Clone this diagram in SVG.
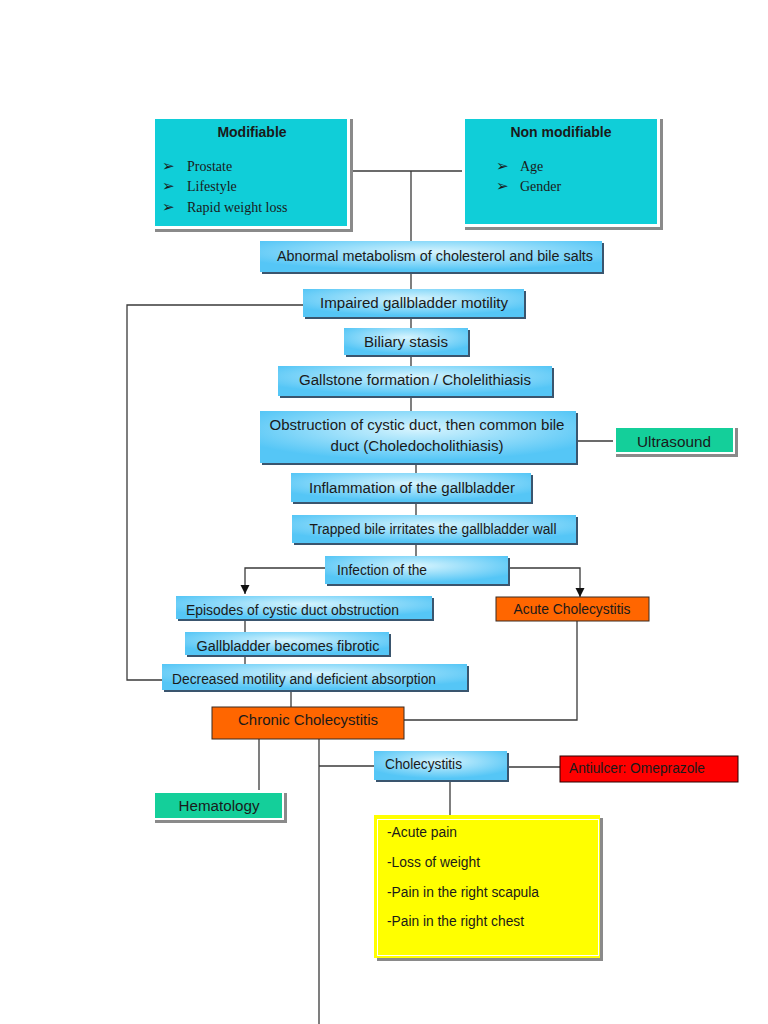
<svg xmlns="http://www.w3.org/2000/svg" width="768" height="1024" viewBox="0 0 768 1024">
<defs>
<radialGradient id="blue" cx="0.5" cy="0.35" r="0.6">
<stop offset="0" stop-color="#D6F4FE"/>
<stop offset="1" stop-color="#55C6F6"/>
</radialGradient>
<marker id="arr" viewBox="0 0 10 10" refX="10" refY="5" markerWidth="7" markerHeight="7" orient="auto">
<path d="M0,0 L10,5 L0,10 z" fill="#111"/>
</marker>
</defs>
<style>
.t{font-family:"Liberation Sans",Arial,sans-serif;font-size:14px;fill:#1a1a1a}
.s{font-family:"Liberation Serif","Times New Roman",serif;font-size:14px;fill:#1a1a1a}
.b{font-weight:bold}
.bl{fill:url(#blue)}
.sh{fill:#3A556E}
.shg{fill:#8a8a8a}
.cy{fill:#10CED8}
.wb{fill:#ffffff}
.gr{fill:#14CF9A}
.or{fill:#FF6600;stroke:#3a2a20;stroke-width:1}
.rd{fill:#FF0000;stroke:#2a0000;stroke-width:1}
.ye{fill:#FFFF00}
.ln{fill:none;stroke:#3a3a3a;stroke-width:1.3}
.m{text-anchor:middle}
.bu{font-family:"DejaVu Sans",sans-serif;font-size:15px;fill:#1a1a1a}
</style>
<rect width="768" height="1024" fill="#ffffff"/>

<g id="connectors">
<path class="ln" d="M351,171 H463"/>
<path class="ln" d="M411,171 V241"/>
<path class="ln" d="M411,273 V289"/>
<path class="ln" d="M411,318 V411"/>
<path class="ln" d="M303,305 H127 V680 H162"/>
<path class="ln" d="M577,441 H614"/>
<path class="ln" d="M416,464 V473"/>
<path class="ln" d="M416,503 V515"/>
<path class="ln" d="M416,544 V556"/>
<path class="ln" d="M325,568 H245 V594" marker-end="url(#arr)"/>
<path class="ln" d="M509,568 H580 V597" marker-end="url(#arr)"/>
<path class="ln" d="M245,620 V632"/>
<path class="ln" d="M245,656 V664"/>
<path class="ln" d="M291,691 V707"/>
<path class="ln" d="M404,720 H577 V621"/>
<path class="ln" d="M259,739 V791"/>
<path class="ln" d="M319,739 V1024"/>
<path class="ln" d="M319,766 H374"/>
<path class="ln" d="M508,767 H560"/>
<path class="ln" d="M450,781 V816"/>
</g>

<g id="modifiable">
<rect class="shg" x="155" y="119" width="198" height="113"/>
<rect class="wb" x="152" y="116" width="198" height="113"/>
<rect class="cy" x="155" y="119" width="192" height="107"/>
<text class="t b m" x="252" y="137">Modifiable</text>
<text class="bu" x="162" y="171">➢</text><text class="s" x="187" y="171">Prostate</text>
<text class="bu" x="162" y="191">➢</text><text class="s" x="187" y="191">Lifestyle</text>
<text class="bu" x="162" y="212">➢</text><text class="s" x="187" y="212">Rapid weight loss</text>
</g>

<g id="nonmodifiable">
<rect class="shg" x="465" y="119" width="198" height="111"/>
<rect class="wb" x="462" y="116" width="198" height="111"/>
<rect class="cy" x="465" y="119" width="192" height="105"/>
<text class="t b m" x="561" y="137">Non modifiable</text>
<text class="bu" x="496" y="171">➢</text><text class="s" x="520" y="171">Age</text>
<text class="bu" x="496" y="191">➢</text><text class="s" x="520" y="191">Gender</text>
</g>

<g id="abnormal">
<rect class="sh" x="262" y="243" width="342" height="31"/>
<rect class="bl" x="260" y="241" width="342" height="31"/>
<text class="t m" x="435" y="261" font-size="13" textLength="316" lengthAdjust="spacingAndGlyphs">Abnormal metabolism of cholesterol and bile salts</text>
</g>

<g id="impaired">
<rect class="sh" x="305" y="291" width="221" height="28"/>
<rect class="bl" x="303" y="289" width="221" height="28"/>
<text class="t m" x="414" y="308" textLength="188" lengthAdjust="spacingAndGlyphs">Impaired gallbladder motility</text>
</g>

<g id="biliary">
<rect class="sh" x="346" y="330" width="124" height="27"/>
<rect class="bl" x="344" y="328" width="124" height="27"/>
<text class="t m" x="406" y="347" textLength="84" lengthAdjust="spacingAndGlyphs">Biliary stasis</text>
</g>

<g id="gallstone">
<rect class="sh" x="280" y="368" width="274" height="30"/>
<rect class="bl" x="278" y="366" width="274" height="30"/>
<text class="t m" x="415" y="385" textLength="232" lengthAdjust="spacingAndGlyphs">Gallstone formation / Cholelithiasis</text>
</g>

<g id="obstruction">
<rect class="sh" x="262" y="413" width="316" height="52"/>
<rect class="bl" x="260" y="411" width="316" height="52"/>
<text class="t m" x="417" y="430" textLength="295" lengthAdjust="spacingAndGlyphs">Obstruction of cystic duct, then common bile</text>
<text class="t m" x="417" y="451" textLength="173" lengthAdjust="spacingAndGlyphs">duct (Choledocholithiasis)</text>
</g>

<g id="ultrasound">
<rect class="shg" x="616" y="428" width="122" height="29"/>
<rect class="wb" x="613" y="425" width="122" height="29"/>
<rect class="gr" x="616" y="428" width="117" height="24"/>
<text class="t m" x="674" y="447" textLength="74" lengthAdjust="spacingAndGlyphs">Ultrasound</text>
</g>

<g id="inflammation">
<rect class="sh" x="293" y="475" width="240" height="29"/>
<rect class="bl" x="291" y="473" width="240" height="29"/>
<text class="t m" x="412" y="493" textLength="206" lengthAdjust="spacingAndGlyphs">Inflammation of the gallbladder</text>
</g>

<g id="trapped">
<rect class="sh" x="294" y="517" width="284" height="28"/>
<rect class="bl" x="292" y="515" width="284" height="28"/>
<text class="t m" x="433" y="534" font-size="13" textLength="247" lengthAdjust="spacingAndGlyphs">Trapped bile irritates the gallbladder wall</text>
</g>

<g id="infection">
<rect class="sh" x="327" y="558" width="183" height="28"/>
<rect class="bl" x="325" y="556" width="183" height="28"/>
<text class="t" x="337" y="575" font-size="13" textLength="90" lengthAdjust="spacingAndGlyphs">Infection of the</text>
</g>

<g id="episodes">
<rect class="sh" x="178" y="598" width="256" height="23"/>
<rect class="bl" x="176" y="596" width="256" height="23"/>
<text class="t" x="186" y="615" font-size="13" textLength="213" lengthAdjust="spacingAndGlyphs">Episodes of cystic duct obstruction</text>
</g>

<g id="acute">
<rect class="or" x="496" y="597" width="153" height="24"/>
<text class="t m" x="572" y="614" font-size="13" textLength="117" lengthAdjust="spacingAndGlyphs">Acute Cholecystitis</text>
</g>

<g id="fibrotic">
<rect class="sh" x="187" y="634" width="204" height="23"/>
<rect class="bl" x="185" y="632" width="204" height="23"/>
<text class="t m" x="288" y="651" font-size="13" textLength="183" lengthAdjust="spacingAndGlyphs">Gallbladder becomes fibrotic</text>
</g>

<g id="decreased">
<rect class="sh" x="164" y="666" width="305" height="26"/>
<rect class="bl" x="162" y="664" width="305" height="26"/>
<text class="t" x="172" y="684" font-size="13" textLength="264" lengthAdjust="spacingAndGlyphs">Decreased motility and deficient absorption</text>
</g>

<g id="chronic">
<rect class="or" x="212" y="707" width="192" height="32"/>
<text class="t m" x="308" y="725" textLength="140" lengthAdjust="spacingAndGlyphs">Chronic Cholecystitis</text>
</g>

<g id="hematology">
<rect class="shg" x="155" y="793" width="132" height="30"/>
<rect class="wb" x="152" y="790" width="132" height="30"/>
<rect class="gr" x="155" y="793" width="127" height="25"/>
<text class="t m" x="219" y="811" textLength="81" lengthAdjust="spacingAndGlyphs">Hematology</text>
</g>

<g id="cholecystitis">
<rect class="sh" x="376" y="753" width="133" height="29"/>
<rect class="bl" x="374" y="751" width="133" height="29"/>
<text class="t" x="385" y="769" font-size="13" textLength="77" lengthAdjust="spacingAndGlyphs">Cholecystitis</text>
</g>

<g id="antiulcer">
<rect class="rd" x="560" y="756" width="178" height="26"/>
<text class="t" x="569" y="773" font-size="13" textLength="136" lengthAdjust="spacingAndGlyphs">Antiulcer: Omeprazole</text>
</g>

<g id="symptoms">
<rect class="shg" x="377" y="818" width="226" height="143"/>
<rect class="ye" x="374" y="815" width="226" height="143"/>
<rect class="wb" x="377" y="819" width="222" height="137"/>
<rect class="ye" x="378" y="820" width="220" height="135"/>
<text class="t" x="387" y="837" font-size="13" textLength="70" lengthAdjust="spacingAndGlyphs">-Acute pain</text>
<text class="t" x="387" y="867" font-size="13" textLength="93" lengthAdjust="spacingAndGlyphs">-Loss of weight</text>
<text class="t" x="387" y="897" font-size="13" textLength="152" lengthAdjust="spacingAndGlyphs">-Pain in the right scapula</text>
<text class="t" x="387" y="926" font-size="13" textLength="137" lengthAdjust="spacingAndGlyphs">-Pain in the right chest</text>
</g>
</svg>
